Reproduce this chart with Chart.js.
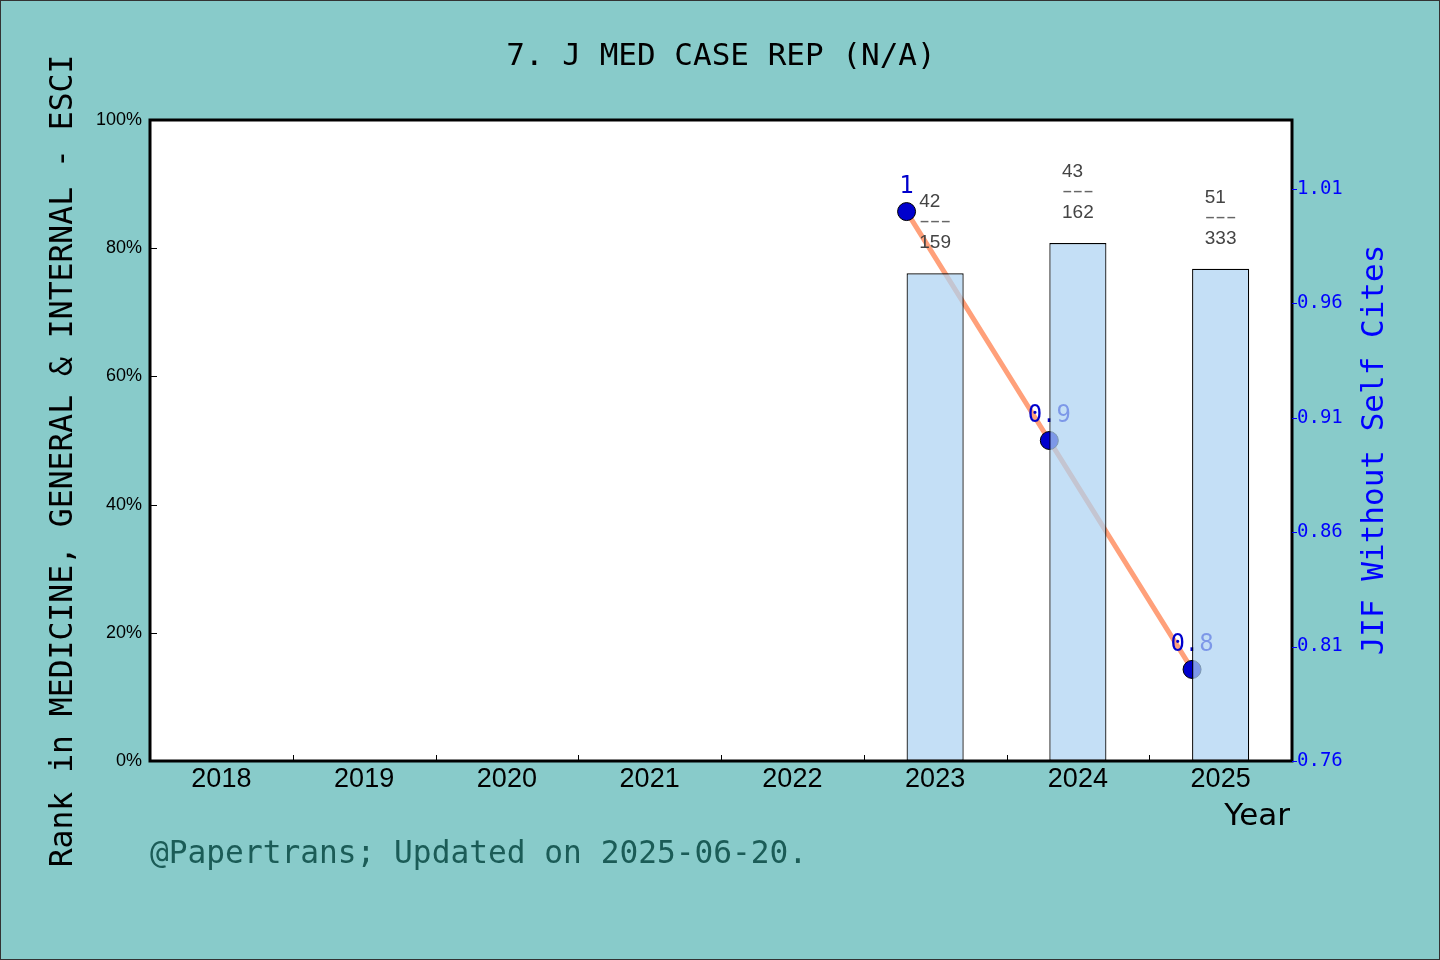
<!DOCTYPE html>
<html>
<head>
<meta charset="utf-8">
<script src="https://cdn.jsdelivr.net/npm/chart.js@4"></script>
<style>
  html, body { margin: 0; padding: 0; background: #88cbca; }
  #wrap { width: 1440px; height: 960px; }
</style>
</head>
<body>
<div id="wrap"><canvas id="c" width="1440" height="960"></canvas></div>
<script>
'use strict'

const years = ['2018', '2019', '2020', '2021', '2022', '2023', '2024', '2025']
const rankPct = [null, null, null, null, null, 76.1, 80.8, 76.8]
const rankPos = [null, null, null, null, null, 42, 43, 51]
const catTotal = [null, null, null, null, null, 159, 162, 333]
const jifYears = [2023, 2024, 2025]
const jifValues = [1.0, 0.9, 0.8]
const jifTicks = [0.76, 0.81, 0.86, 0.91, 0.96, 1.01]

const LINE_SHIFT = -0.2 // line points sit at the left edge of each bar

const title = '7. J MED CASE REP (N/A)'
const leftTitle = 'Rank in MEDICINE, GENERAL & INTERNAL - ESCI'
const rightTitle = 'JIF Without Self Cites'
const footer = '@Papertrans; Updated on 2025-06-20.'

const MONO = '"DejaVu Sans Mono", monospace'
const SANS = '"Liberation Sans", Arial, sans-serif'

const decor = {
  id: 'decor',
  beforeDraw(chart) {
    const { ctx, chartArea: a } = chart
    ctx.save()
    ctx.fillStyle = '#88cbca'
    ctx.fillRect(0, 0, chart.width, chart.height)
    ctx.fillStyle = '#ffffff'
    ctx.fillRect(a.left, a.top, a.right - a.left, a.bottom - a.top)
    ctx.restore()
  },
  afterDatasetDraw(chart, args) {
    if (args.meta.type !== 'line') return
    const { ctx } = chart
    ctx.save()
    ctx.font = '24px ' + MONO
    ctx.fillStyle = '#0000cd'
    ctx.textAlign = 'center'
    ctx.textBaseline = 'middle'
    args.meta.data.forEach((pt, i) => {
      ctx.fillText(String(jifValues[i]), pt.x, pt.y - 25)
    })
    ctx.restore()
  },
  afterDatasetsDraw(chart) {
    const { ctx, chartArea: a, scales } = chart
    ctx.save()

    // rank / total labels above bars
    const barMeta = chart.getDatasetMeta(0)
    barMeta.data.forEach((bar, i) => {
      if (rankPct[i] == null) return
      const lines = [String(rankPos[i]), '---', String(catTotal[i])]
      ctx.font = '19px ' + SANS
      const w = Math.max(ctx.measureText(lines[0]).width, ctx.measureText(lines[2]).width)
      const x0 = bar.x - w / 2
      const yb = bar.y - 30
      ctx.textAlign = 'left'
      ctx.textBaseline = 'middle'
      ctx.fillStyle = '#444444'
      ctx.fillText(lines[2], x0, yb)
      ctx.fillText(lines[0], x0, yb - 41)
      // stretch the dashes to the width of the block
      const dw = ctx.measureText(lines[1]).width
      ctx.save()
      ctx.translate(x0, yb - 21)
      ctx.scale(w / dw, 1)
      ctx.fillStyle = '#666666'
      ctx.fillText(lines[1], 0, 0)
      ctx.restore()
    })

    // frame
    ctx.strokeStyle = '#000'
    ctx.lineWidth = 3
    ctx.strokeRect(a.left, a.top, a.right - a.left, a.bottom - a.top)

    // tick marks
    ctx.lineWidth = 1
    ctx.beginPath()
    scales.y.ticks.forEach(t => {
      const y = Math.round(scales.y.getPixelForValue(t.value)) + 0.5
      ctx.moveTo(a.left, y); ctx.lineTo(a.left + 7, y)
    })
    for (let i = 0; i < years.length - 1; i++) {
      const x = Math.round((scales.x.getPixelForValue(i) + scales.x.getPixelForValue(i + 1)) / 2) + 0.5
      ctx.moveTo(x, a.bottom); ctx.lineTo(x, a.bottom - 6)
    }
    ctx.stroke()
    ctx.strokeStyle = '#0000ff'
    ctx.beginPath()
    scales.y1.ticks.forEach(t => {
      const y = Math.round(scales.y1.getPixelForValue(t.value)) + 0.5
      ctx.moveTo(a.right, y); ctx.lineTo(a.right + 5, y)
    })
    ctx.stroke()
    ctx.restore()
  },
  afterDraw(chart) {
    const { ctx, chartArea: a } = chart
    ctx.save()
    ctx.textBaseline = 'middle'

    ctx.font = '31px ' + MONO
    ctx.fillStyle = '#000'
    ctx.textAlign = 'center'
    ctx.fillText(title, 721, 57)

    ctx.save()
    ctx.translate(64, 461)
    ctx.rotate(-Math.PI / 2)
    ctx.font = '31.4px ' + MONO
    ctx.fillText(leftTitle, 0, 0)
    ctx.restore()

    ctx.save()
    ctx.translate(1375, 450)
    ctx.rotate(-Math.PI / 2)
    ctx.font = '31px ' + MONO
    ctx.fillStyle = '#0000ff'
    ctx.fillText(rightTitle, 0, 0)
    ctx.restore()

    ctx.font = '31px "DejaVu Sans", sans-serif'
    ctx.textAlign = 'right'
    ctx.fillText('Year', a.right - 2, 817)

    ctx.font = '31.2px ' + MONO
    ctx.fillStyle = '#1b5c57'
    ctx.textAlign = 'left'
    ctx.fillText(footer, 150, 855)

    ctx.strokeStyle = '#333'
    ctx.lineWidth = 1
    ctx.strokeRect(0.5, 0.5, chart.width - 1, chart.height - 1)
    ctx.restore()
  }
}

new Chart(document.getElementById('c'), {
  data: {
    labels: years,
    datasets: [
      {
        type: 'bar',
        data: rankPct,
        xAxisID: 'x',
        yAxisID: 'y',
        backgroundColor: 'rgba(173, 210, 242, 0.72)',
        borderColor: '#000',
        borderWidth: 1.2,
        borderSkipped: false,
        grouped: false,
        categoryPercentage: 1,
        barPercentage: 0.4,
        order: 1
      },
      {
        type: 'line',
        data: jifYears.map((y, i) => ({ x: y + LINE_SHIFT, y: jifValues[i] })),
        xAxisID: 'x2',
        yAxisID: 'y1',
        borderColor: '#ffa07a',
        borderWidth: 5,
        pointRadius: 9,
        pointHoverRadius: 9,
        pointBackgroundColor: '#0000cd',
        pointBorderColor: '#000',
        pointBorderWidth: 1,
        tension: 0,
        order: 2
      }
    ]
  },
  options: {
    responsive: false,
    devicePixelRatio: 1,
    animation: false,
    events: [],
    layout: { padding: { top: 120, left: 0, right: 0, bottom: 0 } },
    plugins: {
      legend: { display: false },
      tooltip: { enabled: false }
    },
    scales: {
      x: {
        type: 'category',
        offset: true,
        grid: { display: false, drawTicks: false },
        border: { display: false },
        ticks: {
          color: '#000',
          font: { family: SANS, size: 27 },
          padding: 2,
          maxRotation: 0,
          autoSkip: false
        },
        afterFit: s => { s.height = 199 }
      },
      x2: {
        type: 'linear',
        display: false,
        min: 2017.5,
        max: 2025.5
      },
      y: {
        position: 'left',
        min: 0,
        max: 100,
        grid: { display: false, drawTicks: false },
        border: { display: false },
        ticks: {
          stepSize: 20,
          color: '#000',
          padding: 8,
          font: { family: SANS, size: 18 },
          callback: v => v + '%'
        },
        afterFit: s => { s.width = 150 }
      },
      y1: {
        position: 'right',
        min: 0.76,
        max: 1.04,
        grid: { display: false, drawTicks: false },
        border: { display: false },
        ticks: {
          color: '#0000ff',
          padding: 5,
          font: { family: MONO, size: 19 },
          callback: v => v.toFixed(2)
        },
        afterBuildTicks: s => { s.ticks = jifTicks.map(v => ({ value: v })) },
        afterFit: s => { s.width = 148 }
      }
    }
  },
  plugins: [decor]
})
</script>
</body>
</html>
